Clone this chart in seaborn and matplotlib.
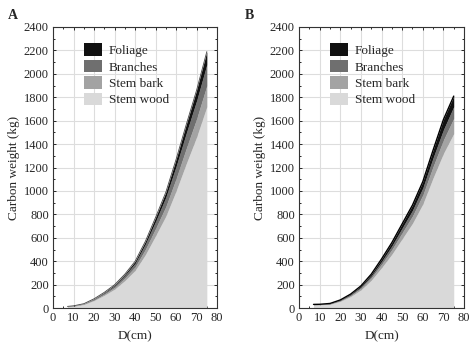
import matplotlib
matplotlib.use("Agg")
import matplotlib.pyplot as plt
from matplotlib.ticker import MultipleLocator
from matplotlib.patches import Patch
import seaborn as sns
import numpy as np

# diameter classes (cm)
d_cm = [7, 10, 15, 20, 25, 30, 35, 40, 45, 50, 55, 60, 65, 70, 75]

# panel A, carbon weight per component (kg)
a_wood = [12, 16, 31, 65, 110, 162, 235, 322, 456, 618, 785, 1000, 1235, 1460, 1720]
a_bark = [1, 2, 3, 6, 10, 15, 22, 30, 45, 62, 82, 105, 130, 155, 180]
a_branches = [1, 1, 3, 6, 10, 15, 22, 30, 45, 60, 80, 105, 130, 155, 180]
a_foliage = [1, 1, 1, 3, 5, 8, 11, 18, 24, 35, 43, 60, 75, 90, 110]

# panel B
b_wood = [27, 28, 33, 58, 99, 156, 238, 345, 460, 592, 724, 888, 1112, 1320, 1490]
b_bark = [2, 2, 3, 5, 9, 14, 21, 30, 40, 52, 63, 78, 97, 115, 130]
b_branches = [1, 1, 2, 4, 6, 10, 16, 23, 31, 40, 48, 60, 75, 88, 100]
b_foliage = [2, 2, 2, 3, 6, 10, 15, 22, 29, 36, 45, 54, 66, 87, 90]

labels = ["Foliage", "Branches", "Stem bark", "Stem wood"]
colors = ["#111111", "#6f6f6f", "#a3a3a3", "#d9d9d9"]

sns.set_style("ticks")
plt.rcParams["font.family"] = ["Liberation Serif", "DejaVu Serif"]
plt.rcParams["font.size"] = 9

fig = plt.figure(figsize=(4.74, 3.55), dpi=100)
ax_a = fig.add_axes([0.112, 0.132, 0.346, 0.792])
ax_b = fig.add_axes([0.631, 0.132, 0.348, 0.792])

panels = [
    (ax_a, "A", a_wood, a_bark, a_branches, a_foliage, "#444444", 0.6),
    (ax_b, "B", b_wood, b_bark, b_branches, b_foliage, "#000000", 1.0),
]

for ax, tag, wood, bark, br, fol, edge, lw in panels:
    ax.stackplot(d_cm, wood, bark, br, fol,
                 colors=[colors[3], colors[2], colors[1], colors[0]],
                 linewidth=0, zorder=2)
    total = np.array(wood) + np.array(bark) + np.array(br) + np.array(fol)
    sns.lineplot(x=d_cm, y=total, ax=ax, color=edge, linewidth=lw, zorder=3)
    ax.set_xlim(0, 80)
    ax.set_ylim(0, 2400)
    ax.xaxis.set_major_locator(MultipleLocator(10))
    ax.yaxis.set_major_locator(MultipleLocator(200))
    ax.xaxis.set_minor_locator(MultipleLocator(5))
    ax.yaxis.set_minor_locator(MultipleLocator(100))
    ax.grid(True, which="major", color="#dddddd", linewidth=0.8, zorder=0)
    ax.set_axisbelow(True)
    ax.tick_params(which="both", direction="in", top=True, right=True,
                   length=2.5, width=0.7, labelsize=9, pad=3)
    ax.tick_params(which="minor", length=1.5)
    for s in ax.spines.values():
        s.set_color("#333333")
        s.set_linewidth(0.8)
    ax.set_xlabel("D(cm)", fontsize=9.5, labelpad=4)
    ax.set_ylabel("Carbon weight (kg)", fontsize=9.5, labelpad=3)
    handles = [Patch(facecolor=c, edgecolor="none") for c in colors]
    ax.legend(handles, labels, loc="upper left", bbox_to_anchor=(0.13, 0.975),
              frameon=False, fontsize=9.5, handlelength=1.4, handleheight=1.1,
              handletextpad=0.5, labelspacing=0.2, borderpad=0.2)

fig.text(0.017, 0.975, "A", fontsize=10, fontweight="bold", va="top")
fig.text(0.517, 0.975, "B", fontsize=10, fontweight="bold", va="top")

fig.savefig("out.png", dpi=100)
